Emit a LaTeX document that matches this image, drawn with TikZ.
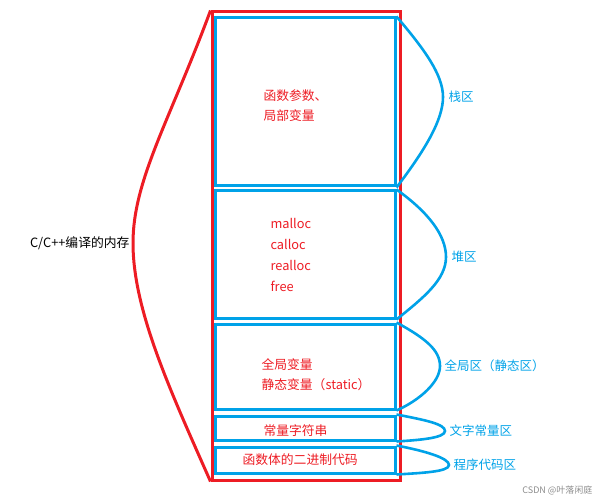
\documentclass[tikz,border=0pt]{standalone}
\usepackage{fontspec}
\setmainfont{Noto Sans CJK SC}
\definecolor{paintred}{RGB}{237,28,36}
\definecolor{paintblue}{RGB}{0,162,232}
\tikzset{
  seg/.style={draw=paintblue,line width=3pt,minimum width=180pt,inner sep=0pt},
  brc/.style={draw=paintblue,line width=2.6pt},
  segtxt/.style={text=paintred,anchor=west,align=left,font=\fontsize{12.8}{20}\selectfont},
  zone/.style={text=paintblue,anchor=west,font=\fontsize{12.5}{14}\selectfont}
}
\begin{document}
\begin{tikzpicture}[x=1pt,y=-1pt]
\useasboundingbox (0,0) rectangle (600,500);
% whole memory
\node[draw=paintred,line width=3pt,minimum width=188pt,minimum height=468pt,inner sep=0pt] (mem) at (306,246) {};
\node[seg,minimum height=168pt] (stack) at (305,102) {};
\node[seg,minimum height=127pt] (heap) at (305,254.5) {};
\node[seg,minimum height=85pt] (glob) at (305,366.5) {};
\node[seg,minimum height=24pt] (const) at (305,428) {};
\node[seg,minimum height=26pt] (code) at (305,460) {};
% contents
\node[segtxt] (stacktxt) at (260,106) {函数参数、\\局部变量};
\node[segtxt,font=\fontsize{12.8}{21}\selectfont] (heaptxt) at (267,255) {malloc\\calloc\\realloc\\free};
\node[segtxt] (globtxt) at (258,375) {全局变量\\静态变量（static）};
\node[segtxt] (consttxt) at (260,431) {常量字符串};
\node[segtxt] (codetxt) at (239,460) {函数体的二进制代码};
% left brace
\coordinate (lp) at (133,243);
\draw[paintred,line width=3pt] (mem.north west) .. controls (170,120) and (133,180) .. (lp)
  .. controls (133,310) and (170,390) .. (mem.south west);
\node[anchor=east,font=\fontsize{12.8}{14}\selectfont] (memlbl) at (lp) {C/C++编译的内存};
% right braces
\coordinate (p1) at (443,97);
\coordinate (p2) at (446,257);
\coordinate (p3) at (440,366);
\coordinate (p4) at (445,431);
\coordinate (p5) at (449,465);
\draw[brc] (stack.north east) .. controls (425,50) and (443,75) .. (p1) .. controls (443,120) and (425,150) .. (stack.south east);
\draw[brc] (heap.north east) .. controls (428,212) and (446,235) .. (p2) .. controls (446,280) and (423,298) .. (heap.south east);
\draw[brc] (glob.north east) .. controls (425,338) and (440,350) .. (p3) .. controls (440,382) and (420,400) .. (glob.south east);
\draw[brc] (const.north east) .. controls (425,420) and (445,424) .. (p4) .. controls (445,438) and (420,440) .. (const.south east);
\draw[brc] (code.north east) .. controls (425,451) and (449,458) .. (p5) .. controls (449,472) and (420,473) .. (code.south east);
\node[zone] (stacklbl) at ([xshift=2pt]p1) {栈区};
\node[zone] (heaplbl) at ([xshift=2pt]p2) {堆区};
\node[zone] (globlbl) at ([xshift=1pt]p3) {全局区（静态区）};
\node[zone] (constlbl) at ([xshift=1pt]p4) {文字常量区};
\node[zone] (codelbl) at ([xshift=1pt]p5) {程序代码区};
\node[anchor=east,text=black!45,font=\fontsize{9}{10}\selectfont] (mark) at (596,490) {CSDN @叶落闲庭};
\end{tikzpicture}
\end{document}
